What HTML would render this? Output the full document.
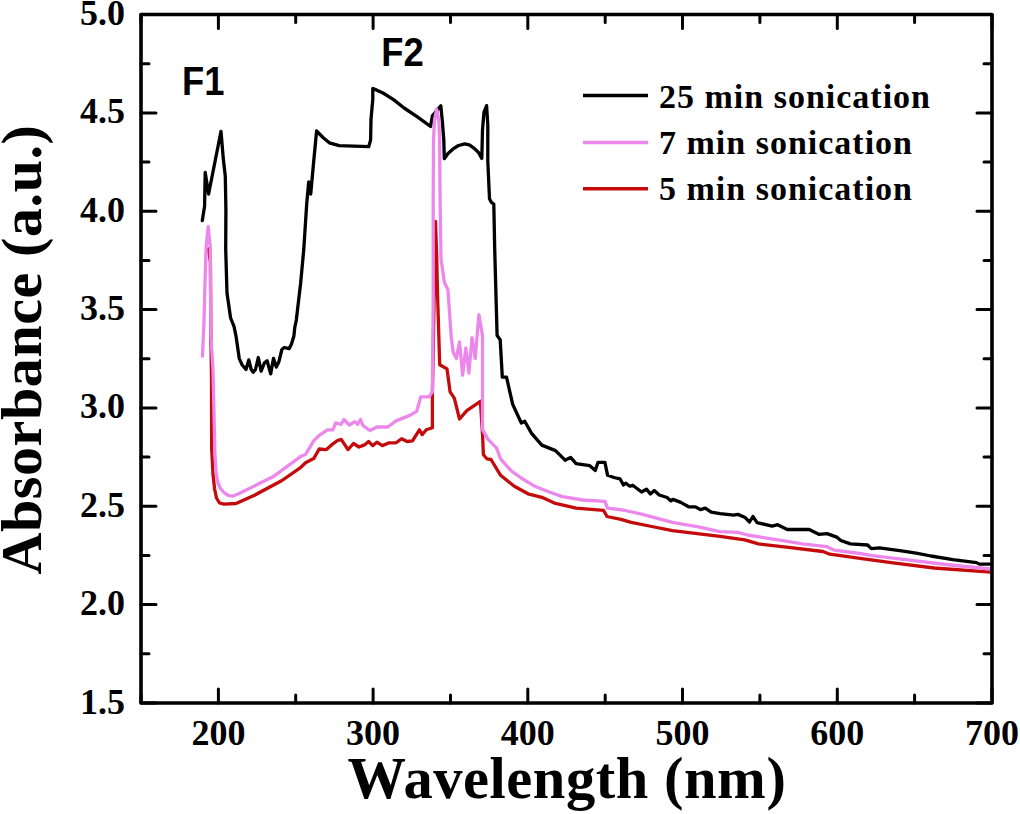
<!DOCTYPE html>
<html><head><meta charset="utf-8"><style>
html,body{margin:0;padding:0;background:#fff;}
body{width:1020px;height:814px;overflow:hidden;}
svg{display:block;}
.serif{font-family:"Liberation Serif",serif;font-weight:bold;fill:#000;}
.sans{font-family:"Liberation Sans",sans-serif;font-weight:bold;fill:#000;}
</style></head><body>
<svg width="1020" height="814" viewBox="0 0 1020 814">
<rect width="1020" height="814" fill="#fff"/>
<g fill="none" stroke-linejoin="round" stroke-linecap="round" stroke-width="3.3">
<polyline stroke="#000" points="202.3,220.6 204.6,206 205.2,172.5 208.6,194 221,131.3 223.3,158.8 225.3,176.4 225.9,209.8 225.7,249 227,293 230.6,318 234,326.4 236,336 237.6,347.1 239.2,358.3 242,364.7 246,369.5 248.8,359.9 251.2,369.5 253.2,372.3 255.5,369.5 258.3,357.5 261.1,371.1 264.3,363.1 267.1,360.7 270.7,373.9 273.5,358.3 276.3,367.1 278.7,362.3 281.9,349.5 284.3,347.5 289.1,348.7 291.5,344 293.9,336 294.7,328 296.3,320 300.6,283.5 303.8,249 306.7,203.8 308.7,182 310.7,194 313.6,162.5 316.6,131 323,137.5 329.3,142.8 339.2,145.7 368.7,146.7 370.6,140 371,119.4 372.8,99.1 372.8,88.5 376.3,89.9 383,93 393.5,99.6 404.1,108 417.4,116.8 430.6,126.5 432.4,115.9 440.8,105.7 442.5,123 443.8,140 444.3,158.7 448,153.5 453.1,148.9 458.5,145.5 464.9,143.9 470,145.2 474.8,148.9 478.5,152.5 481.8,158.4 482.5,130 484,112 486.6,105.6 487.8,125 487.8,161 489.5,198.8 491.3,202.3 493.8,204 494.7,248.8 496,296.4 497.1,335.5 500.2,339.7 502.3,377.2 506.5,377.2 512.7,404.4 521.3,423 524.7,421.3 531.6,433.4 541.8,445.1 555.5,450.6 565.1,460.2 570.6,457.4 576.1,463.6 589.8,465.7 595.3,470.5 598,462.3 604.9,462.3 607.6,475.3 614,477.5 620,478.8 623.4,485 625.9,483.2 629.8,486.2 632.7,485.2 641.6,492 646.5,489.1 650.4,494 654.3,490.6 659.2,495 667.1,497.5 671,500.9 672.9,499.4 680.8,502.4 688.6,506.8 695.5,506.8 700.4,509.7 705.3,508.2 711.2,512.2 720,513.6 733.7,515.1 737.8,514.4 744.7,517.2 749.5,522 752.9,516.5 757.1,522.6 772.2,526.1 777.6,524.7 787.3,529.5 809.2,529.5 818.8,534.3 827.1,533.6 836.7,537.1 840.8,540.5 850.4,543.9 867.6,545 871.3,548.7 879.4,547.9 901.5,550.9 916.2,553.1 930.9,556 952.9,559.7 976.5,562.6 979.4,564.1 991,564.1"/>
<polyline stroke="#c40a0a" points="210.9,345 210.4,262 208.5,249 210.4,262 210.9,335 211.5,380 211.7,449.2 213,474 214.6,489 216.5,498 219.5,503 224,504.2 236,503.5 254.5,495.2 282,480.5 300.5,467.6 305.5,462.7 313.7,458.6 319.2,449 326.1,449.7 331.6,444.9 337.1,440.8 341.2,439.4 348,449.7 353.5,443.5 359,447 364.5,444.9 368.6,441.5 372.7,445.6 376.9,442.2 382.3,445.6 389.2,442.8 396.1,442.8 401.6,438.7 407.1,441.5 412.5,440.8 419.4,429.8 422.2,434.6 426.3,429.8 432.4,427.7 432.4,394 435.5,221.5 436.7,256.8 437.5,293 439.7,364.7 447,368.9 450.1,391.9 454.3,398.1 459.5,419 466.8,410.6 480.4,401.3 482.5,433.6 483.4,454.7 486.9,458.8 491,459.5 500.6,475.3 514.3,486.3 528,493.8 541.8,497.3 555.5,503.4 576.1,508.2 603.5,510.3 607,516.5 620.9,519.3 631.2,522.4 651.8,526.5 672.4,530.6 720,536.4 744.7,539.8 758.4,543.9 788.6,547.4 822.9,551.5 829.8,554.2 860,558.3 893,562.8 934.1,568 991,572.1"/>
<polyline stroke="#ec88ec" points="202.5,356.1 204,320.6 205,283 206.1,247.6 208.2,226.7 210.3,247.6 210.9,335.3 213,370 214.9,452.9 216,472 217.8,482.5 220.4,488.5 224.5,493 228.5,495.5 232.4,496.2 238,494 245.2,490.6 272.9,476.8 300.5,456.6 305.5,454.5 313.7,440.8 319.2,435.3 327.5,429.8 332.9,429.8 335.7,422.9 341.2,424.3 343.9,419.5 349.4,425 354.9,421.6 357.6,424.3 360.4,419.5 363.1,425.7 370,430.5 376.9,427 387.8,427 396.1,420.9 409.8,415.4 416.7,411.3 420.8,396.9 429,396.9 432.4,391.9 433.2,300 433.2,200 433.5,140 434.5,120 436.6,109 438.8,120 439.6,140 440.1,200 441,258.5 444.4,282.6 447.9,289.5 451.3,337.7 453.2,352.2 456.4,358.5 459.5,341.8 462.6,375.2 465.8,348 468.9,373 472,337.6 475.2,358.5 478.9,314.6 482.5,335.5 482.5,429.4 488.2,439.6 496.5,447.8 500.6,458.8 511.6,471.2 521.2,478 534.9,486.3 548.6,491.8 562.3,496.6 582.9,500 604.9,501.4 607.6,508.2 622.9,510 641.5,514.1 672.4,522.4 698.4,526.9 720,531.6 737.8,532.3 747.5,535 786,541.2 802.3,543.9 827,546.7 833.9,550.1 860,553.5 872.4,555.6 913.5,560.7 954.7,565.5 991,569"/>
</g>
<rect x="141.0" y="14.5" width="851.0" height="688.5" fill="none" stroke="#000" stroke-width="3.6" stroke-linejoin="round"/>
<path d="M141.0,703.0v-8 M141.0,14.5v8 M218.4,703.0v-14 M218.4,14.5v14 M295.7,703.0v-8 M295.7,14.5v8 M373.1,703.0v-14 M373.1,14.5v14 M450.5,703.0v-8 M450.5,14.5v8 M527.8,703.0v-14 M527.8,14.5v14 M605.2,703.0v-8 M605.2,14.5v8 M682.5,703.0v-14 M682.5,14.5v14 M759.9,703.0v-8 M759.9,14.5v8 M837.3,703.0v-14 M837.3,14.5v14 M914.6,703.0v-8 M914.6,14.5v8 M992.0,703.0v-14 M992.0,14.5v14 M141.0,703.0h15 M992.0,703.0h-15 M141.0,653.8h8 M992.0,653.8h-8 M141.0,604.6h15 M992.0,604.6h-15 M141.0,555.5h8 M992.0,555.5h-8 M141.0,506.3h15 M992.0,506.3h-15 M141.0,457.1h8 M992.0,457.1h-8 M141.0,407.9h15 M992.0,407.9h-15 M141.0,358.8h8 M992.0,358.8h-8 M141.0,309.6h15 M992.0,309.6h-15 M141.0,260.4h8 M992.0,260.4h-8 M141.0,211.2h15 M992.0,211.2h-15 M141.0,162.0h8 M992.0,162.0h-8 M141.0,112.9h15 M992.0,112.9h-15 M141.0,63.7h8 M992.0,63.7h-8 M141.0,14.5h15 M992.0,14.5h-15" stroke="#000" stroke-width="3" stroke-linecap="round" fill="none"/>
<g class="serif" font-size="36"><text x="218.4" y="745" text-anchor="middle">200</text><text x="373.1" y="745" text-anchor="middle">300</text><text x="527.8" y="745" text-anchor="middle">400</text><text x="682.5" y="745" text-anchor="middle">500</text><text x="837.3" y="745" text-anchor="middle">600</text><text x="992.0" y="745" text-anchor="middle">700</text><text x="125" y="713.5" text-anchor="end">1.5</text><text x="125" y="615.1" text-anchor="end">2.0</text><text x="125" y="516.8" text-anchor="end">2.5</text><text x="125" y="418.4" text-anchor="end">3.0</text><text x="125" y="320.1" text-anchor="end">3.5</text><text x="125" y="221.7" text-anchor="end">4.0</text><text x="125" y="123.4" text-anchor="end">4.5</text><text x="125" y="25.0" text-anchor="end">5.0</text></g>
<text class="serif" font-size="58.5" letter-spacing="0.55" x="567" y="797.5" text-anchor="middle">Wavelength (nm)</text>
<text class="serif" font-size="58" letter-spacing="0.6" transform="translate(41,349.5) rotate(-90)" text-anchor="middle">Absorbance (a.u.)</text>
<text class="sans" font-size="40" transform="translate(184.8,95.4) scale(0.91,1)" x="-3">F1</text>
<text class="sans" font-size="40" transform="translate(384,65.7) scale(0.91,1)" x="-3">F2</text>
<g stroke-width="3.5">
<line x1="583" y1="95.5" x2="648" y2="95.5" stroke="#000"/>
<line x1="583" y1="142.5" x2="648" y2="142.5" stroke="#ec88ec"/>
<line x1="583" y1="188.8" x2="648" y2="188.8" stroke="#c40a0a"/>
</g>
<g class="serif" font-size="34" letter-spacing="1">
<text x="659" y="107.5">25 min sonication</text>
<text x="659" y="154">7 min sonication</text>
<text x="659" y="200">5 min sonication</text>
</g>
</svg>
</body></html>
